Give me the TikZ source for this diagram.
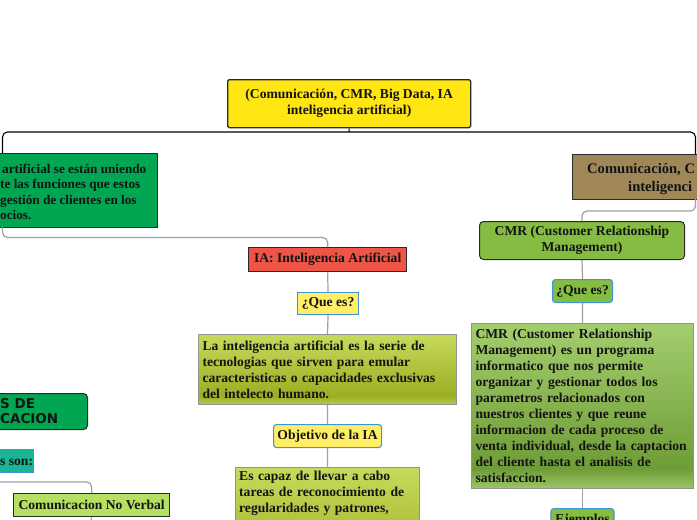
\documentclass[tikz,border=0pt]{standalone}
\usepackage{fontspec}
\setmainfont{Liberation Serif}
\newfontfamily\hdfont{DejaVu Sans}
\usetikzlibrary{calc}
\definecolor{ink}{HTML}{141414}
\definecolor{edge}{HTML}{2A2A2A}
\definecolor{wire}{HTML}{A0A0A0}
\definecolor{bluee}{HTML}{3E94D6}
\definecolor{rootfill}{HTML}{FFE512}
\definecolor{greenfill}{HTML}{00A651}
\definecolor{brownfill}{HTML}{A08758}
\definecolor{redfill}{HTML}{EF5547}
\definecolor{cuefill}{HTML}{FFEE66}
\definecolor{leaffill}{HTML}{84BD41}
\definecolor{tealfill}{HTML}{1BB494}
\definecolor{limefill}{HTML}{B5E061}
\definecolor{oa}{HTML}{C5D65A}
\definecolor{ob}{HTML}{B8CA4E}
\definecolor{oc}{HTML}{9BAE22}
\definecolor{od}{HTML}{C8DA5C}
\definecolor{la}{HTML}{A2CC6C}
\definecolor{lb}{HTML}{9CC666}
\definecolor{lc}{HTML}{6E9C36}
\definecolor{ld}{HTML}{A4CE6E}
\pgfdeclareverticalshading{oliveshade}{100bp}{color(0bp)=(oa); color(25bp)=(ob); color(31bp)=(oc); color(75bp)=(od); color(100bp)=(od)}
\pgfdeclareverticalshading{leafshade}{100bp}{color(0bp)=(la); color(25bp)=(lb); color(31bp)=(lc); color(75bp)=(ld); color(100bp)=(ld)}
\tikzset{
 x=1pt,y=-1pt,
 every node/.style={font=\bfseries\fontsize{13.6}{16}\selectfont,text=ink,inner sep=0pt},
 base/.style={anchor=north west,align=center,minimum width=#1},
 dark/.style={draw=edge,line width=1.3pt},
 cue/.style={draw=bluee,line width=1.1pt,fill=#1},
 note/.style={draw=gray!85,line width=1pt,anchor=north west,shade,shading angle=0},
 frag/.style={anchor=base west},
 wirel/.style={draw=wire,line width=1.2pt,rounded corners=5pt},
 mainl/.style={draw=black,line width=1.1pt,rounded corners=5pt},
}
\begin{document}
\begin{tikzpicture}
\useasboundingbox (0,0) rectangle (697,520);
\clip (0,0) rectangle (697,520);
\fill[white] (0,0) rectangle (697,520);
% root
\node[base=243pt,minimum height=48pt,dark,fill=rootfill,rounded corners=1.5pt] (root) at (227,79) {(Comunicación, CMR, Big Data, IA\\inteligencia artificial)};
% left green
\node[base=172pt,minimum height=74pt,dark,fill=greenfill] (gbox) at (-15,153) {};
\node[frag,font=\bfseries\fontsize{13.2}{16}\selectfont] (g1) at (2,173) {artificial se están uniendo};
\node[frag,font=\bfseries\fontsize{13.2}{16}\selectfont] (g2) at (0,188) {te las funciones que estos};
\node[frag,font=\bfseries\fontsize{13.2}{16}\selectfont] (g3) at (0,204) {gestión de clientes en los};
\node[frag,font=\bfseries\fontsize{13.2}{16}\selectfont] (g4) at (0,219) {ocios.};
% brown
\node[base=160pt,minimum height=45pt,dark,fill=brownfill] (bbox) at (572,154) {};
\node[frag,font=\bfseries\fontsize{14.6}{16}\selectfont] (b1) at (587,173) {Comunicación, C};
\node[frag,font=\bfseries\fontsize{14.6}{16}\selectfont] (b2) at (628,191) {inteligenci};
% IA branch
\node[base=158pt,minimum height=24pt,dark,fill=redfill] (ia) at (248,247) {IA: Inteligencia Artificial};
\node[base=61pt,minimum height=22pt,cue=cuefill] (q1) at (297,292) {¿Que es?};
\node[note,shading=oliveshade,minimum width=258pt,minimum height=70pt,text width=250pt,align=left] (d1) at (198,334) {La inteligencia artificial es la serie de\\tecnologias que sirven para emular\\caracteristicas o capacidades exclusivas\\del intelecto humano.};
\node[base=108pt,minimum height=23pt,cue=cuefill,rounded corners=3pt] (obj) at (273,424) {Objetivo de la IA};
\node[note,shading=oliveshade,minimum width=184pt,minimum height=120pt] (d2) at (235,467) {};
\node[anchor=north west,text width=176pt,align=left] (d2t) at (239,471) {Es capaz de llevar a cabo\\tareas de reconocimiento de\\regularidades y patrones,};
% CMR branch
\node[base=205pt,minimum height=38pt,draw=edge,line width=1pt,rounded corners=4pt,fill=leaffill] (cmr) at (479,221) {CMR (Customer Relationship\\Management)};
\node[base=60pt,minimum height=23pt,cue=leaffill,rounded corners=3pt] (q2) at (552,279) {¿Que es?};
\node[note,shading=leafshade,minimum width=222pt,minimum height=165pt,text width=214pt,align=left] (d3) at (471,323) {CMR (Customer Relationship\\Management) es un programa\\informatico que nos permite\\organizar y gestionar todos los\\parametros relacionados con\\nuestros clientes y que reune\\informacion de cada proceso de\\venta individual, desde la captacion\\del cliente hasta el analisis de\\satisfaccion.};
\node[anchor=north,minimum width=63pt,minimum height=24pt,cue=leaffill,rounded corners=3pt] (ej) at (582.5,508) {Ejemplos};
% bottom left
\node[base=102pt,minimum height=36pt,draw=edge,line width=1pt,rounded corners=4pt,fill=greenfill] (tipo) at (-15,393) {};
\node[frag,font=\hdfont\bfseries\fontsize{13.5}{16}\selectfont] (t1) at (0,408) {S DE};
\node[frag,font=\hdfont\bfseries\fontsize{13.5}{16}\selectfont] (t2) at (0,423) {CACION};
\node[base=48pt,minimum height=23pt,cue=tealfill] (son) at (-15,449) {};
\node[frag] (s1) at (0,465) {s son:};
\node[base=156pt,minimum height=23pt,dark,fill=limefill] (nv) at (13,493) {Comunicacion No Verbal};
% free ends
\coordinate (hub) at (349,132);
\coordinate (lt) at (2.5,153);
\coordinate (rt) at (695.5,154);
\coordinate (gb) at (2.5,227);
\coordinate (gm) at (2.5,237.5);
\coordinate (bb) at (695.5,199);
\coordinate (bm) at (695.5,211);
\coordinate (off) at (0,482);
\coordinate (low) at (91,520);
% connectors
\draw[mainl] (root.south) -- (hub);
\draw[mainl] (hub) -| (lt);
\draw[mainl] (hub) -| (rt);
\draw[wirel] (gb) -- (gm) -| (ia.north);
\draw[wirel] (ia.south) -- (q1.north);
\draw[wirel] (q1.south) -- (d1.north);
\draw[wirel] (d1.south) -- (obj.north);
\draw[wirel] (obj.south) -- (d2.north);
\draw[wirel] (bb) -- (bm) -| (cmr.north);
\draw[wirel] (cmr.south) -- (q2.north);
\draw[wirel] (q2.south) -- (d3.north);
\draw[wirel] (d3.south) -- (ej.north);
\draw[wirel] (off) -| (nv.north);
\draw[wirel] (nv.south) -- (low);
\end{tikzpicture}
\end{document}
